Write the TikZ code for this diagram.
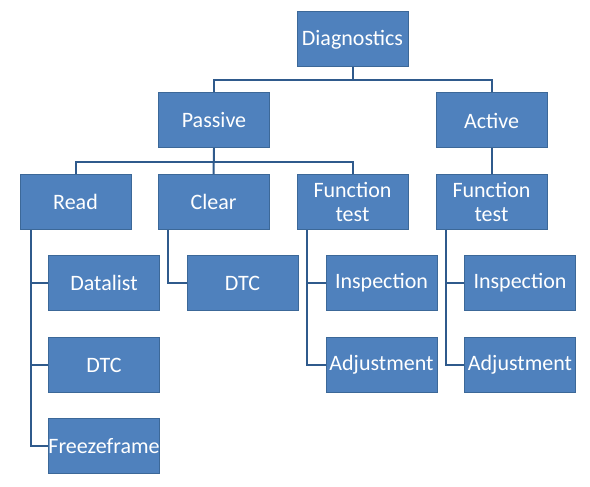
\documentclass[tikz,border=0pt]{standalone}
\usepackage{fontspec}
\setmainfont{Carlito}
\definecolor{boxfill}{HTML}{4F81BD}
\definecolor{boxline}{HTML}{3C6898}
\definecolor{conn}{HTML}{2F5A8C}
\begin{document}
\begin{tikzpicture}[x=1pt,y=-1pt,
  box/.style={draw=boxline,line width=1pt,fill=boxfill,text=white,minimum width=111pt,minimum height=55pt,inner sep=0pt,align=center,font=\fontsize{22}{24.5}\selectfont},
  link/.style={draw=conn,line width=2pt}]
\useasboundingbox (0,0) rectangle (590,487);
\node[box] (diag) at (352.5,39.5) {Diagnostics};
\node[box] (passive) at (214,120.5) {Passive};
\node[box] (active) at (491.5,120.5) {Active};
\node[box] (read) at (75.5,202) {Read};
\node[box] (clear) at (213.5,202) {Clear};
\node[box] (ft1) at (352.5,202) {Function\\test};
\node[box] (ft2) at (491.5,202) {Function\\test};
\node[box] (datalist) at (104,283) {Datalist};
\node[box] (dtc1) at (104,365) {DTC};
\node[box] (freeze) at (104,446) {Freezeframe};
\node[box] (dtc2) at (242.5,283) {DTC};
\node[box] (insp1) at (381.5,283) {Inspection};
\node[box] (adj1) at (381.5,365) {Adjustment};
\node[box] (insp2) at (520,283) {Inspection};
\node[box] (adj2) at (520,365) {Adjustment};
\draw[link] (diag.south) -- ++(0,13) -| (passive.north);
\draw[link] (diag.south) -- ++(0,13) -| (active.north);
\draw[link] (passive.south) -- ++(0,14) -| (read.north);
\draw[link] (passive.south) -- (clear.north);
\draw[link] (passive.south) -- ++(0,14) -| (ft1.north);
\draw[link] (active.south) -- (ft2.north);
\draw[link] ([xshift=11pt]read.south west) |- (datalist.west);
\draw[link] ([xshift=11pt]read.south west) |- (dtc1.west);
\draw[link] ([xshift=11pt]read.south west) |- (freeze.west);
\draw[link] ([xshift=10pt]clear.south west) |- (dtc2.west);
\draw[link] ([xshift=10pt]ft1.south west) |- (insp1.west);
\draw[link] ([xshift=10pt]ft1.south west) |- (adj1.west);
\draw[link] ([xshift=10pt]ft2.south west) |- (insp2.west);
\draw[link] ([xshift=10pt]ft2.south west) |- (adj2.west);
\end{tikzpicture}
\end{document}
